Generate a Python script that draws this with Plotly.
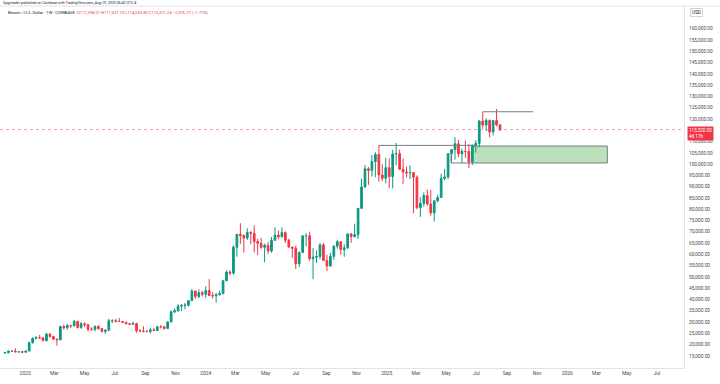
import pandas as pd
import plotly.graph_objects as go

# Weekly BTC/USD candles (values in thousands of USD), first week starting 2022-11-21
week_start = "2022-11-21"
opens_k = [16.28,16.45,17.10,17.10,16.78,16.84,16.62,17.13,20.87,22.71,23.03,22.93,21.80,24.63,23.55,22.43,22.15,27.99,27.46,28.45,
           28.33,30.30,27.59,29.23,28.85,26.78,26.75,28.08,27.10,25.85,26.35,30.55,30.60,30.30,30.25,29.90,29.25,29.05,29.30,26.10,
           26.00,25.85,25.82,26.55,26.25,27.95,27.90,27.15,30.00,34.50,35.00,37.05,37.35,37.45,39.45,43.75,41.35,43.00,42.30,43.95,
           41.75,41.60,42.05,42.60,48.30,52.15,51.75,63.15,68.90,68.40,67.20,69.65,69.35,65.65,64.90,63.10,64.00,61.50,66.25,68.50,
           67.75,69.65,66.20,63.20,62.70,55.85,60.80,68.20,68.25,58.10,58.70,59.00,64.20,57.30,54.80,59.10,63.60,65.60,62.10,62.90,
           69.00,67.90,68.70,80.40,89.90,97.90,97.20,101.10,104.30,95.20,93.70,98.40,94.50,104.50,104.70,97.70,96.50,96.10,96.25,94.20,
           80.70,82.60,86.10,82.30,78.40,83.70,85.20,93.70,94.30,104.60,106.40,109.00,104.60,105.70,105.60,101.00,108.40,109.20,119.10,117.30,
           119.40,114.20,119.30,117.40]
highs_k = [16.75,17.42,17.30,18.39,16.95,16.97,17.20,21.30,23.25,23.80,24.25,23.44,25.25,25.13,23.90,22.60,28.40,28.90,29.20,28.75,
           31.00,30.50,30.00,29.85,29.00,27.65,28.45,28.45,27.40,26.80,31.40,31.25,31.40,31.80,30.45,30.00,29.55,30.20,29.70,26.80,
           28.15,26.40,27.48,27.45,28.05,28.60,28.00,30.35,35.20,35.95,37.95,37.95,38.45,39.75,44.70,43.80,44.40,43.80,45.90,49.00,
           43.20,42.85,43.85,48.55,52.85,52.95,64.00,69.00,73.80,68.90,71.55,70.30,72.80,66.90,67.25,64.75,65.50,67.70,71.95,70.60,
           71.95,70.20,66.95,63.35,63.80,61.30,68.35,69.40,70.05,62.75,61.80,65.00,64.95,59.80,60.65,64.10,66.50,65.70,64.45,69.40,
           69.50,73.60,80.45,93.45,99.60,98.70,104.00,105.25,108.30,99.95,102.75,102.50,106.30,109.35,106.45,102.50,98.80,99.50,96.50,95.00,
           85.30,87.45,88.75,88.50,83.95,86.45,95.75,97.90,104.90,106.60,111.95,110.70,106.80,110.40,108.95,108.50,110.55,119.50,123.20,120.25,
           119.80,119.50,124.45,117.60]
lows_k = [15.98,16.05,16.88,16.53,16.40,16.33,16.55,17.10,20.40,22.35,22.55,21.40,21.35,23.10,21.97,19.57,21.90,26.60,26.50,27.25,
          28.10,27.13,26.95,27.68,25.82,26.10,25.88,26.50,25.35,24.80,26.25,29.55,29.85,30.00,29.55,28.90,28.60,28.70,25.30,25.80,
          25.40,25.40,24.90,26.00,26.00,27.15,26.55,26.90,29.90,33.95,34.55,34.80,35.65,36.85,39.40,40.20,40.55,41.30,40.75,41.50,
          40.35,38.55,41.85,42.25,48.20,50.60,50.90,59.00,64.60,60.75,66.40,64.50,60.80,59.65,62.45,56.55,60.20,60.75,66.10,66.65,
          67.50,65.00,63.10,58.40,53.50,54.30,60.65,63.50,57.10,49.00,56.15,57.85,57.20,52.55,54.60,57.60,62.55,59.85,58.90,62.40,
          65.10,67.45,66.80,80.20,89.40,90.80,94.50,94.20,92.20,92.50,91.50,89.25,89.20,99.50,97.60,91.20,94.10,93.35,78.25,80.00,
          76.60,81.15,81.60,77.15,74.50,83.10,85.15,92.80,93.35,100.80,102.00,103.10,100.40,102.70,98.20,99.60,105.10,107.50,115.70,114.70,
          111.90,112.70,116.80,114.60]
closes_k = [16.45,17.10,17.10,16.78,16.84,16.62,17.13,20.87,22.71,23.03,22.93,21.80,24.63,23.55,22.43,22.15,27.99,27.46,28.45,28.33,
            30.30,27.59,29.23,28.85,26.78,26.75,28.08,27.10,25.85,26.35,30.55,30.60,30.30,30.25,29.90,29.25,29.05,29.30,26.10,26.00,
            25.85,25.82,26.55,26.25,27.95,27.90,27.15,30.00,34.50,35.00,37.05,37.35,37.45,39.45,43.75,41.35,43.00,42.30,43.95,41.75,
            41.60,42.05,42.60,48.30,52.15,51.75,63.15,68.90,68.40,67.20,69.65,69.35,65.65,64.90,63.10,64.00,61.50,66.25,68.50,67.75,
            69.65,66.20,63.20,62.70,55.85,60.80,68.20,68.25,58.10,58.70,59.00,64.20,57.30,54.80,59.10,63.60,65.60,62.10,62.90,69.00,
            67.90,68.70,80.40,89.90,97.90,97.20,101.10,104.30,95.20,93.70,98.40,94.50,104.50,104.70,97.70,96.50,96.10,96.25,94.20,80.70,
            82.60,86.10,82.30,78.40,83.70,85.20,93.70,94.30,104.60,106.40,109.00,104.60,105.70,105.60,101.00,108.40,109.20,119.10,117.30,119.40,
            114.20,119.30,117.40,115.32]

# Axis labels
y_tick_values = list(range(15000, 160001, 5000))
y_tick_labels = [f"{v:,.2f}" for v in y_tick_values]
x_tick_dates = ["2023-01-01","2023-03-01","2023-05-01","2023-07-01","2023-09-01","2023-11-01",
                "2024-01-01","2024-03-01","2024-05-01","2024-07-01","2024-09-01","2024-11-01",
                "2025-01-01","2025-03-01","2025-05-01","2025-07-01","2025-09-01","2025-11-01",
                "2026-01-01","2026-03-01","2026-05-01","2026-07-01"]
x_tick_labels = ["2023","Mar","May","Jul","Sep","Nov","2024","Mar","May","Jul","Sep","Nov",
                 "2025","Mar","May","Jul","Sep","Nov","2026","Mar","May","Jul"]

# Drawings (price levels in USD)
ath_level = 123200
prev_high_level = 108300
zone_top = 108000
zone_bottom = 100500
bracket_top = 104900
last_price = closes_k[-1] * 1000

dates = pd.date_range(week_start, periods=len(closes_k), freq="7D")
UP = "#089981"
DOWN = "#f23645"
GRAY = "#787b86"

fig = go.Figure()
fig.add_trace(go.Candlestick(
    x=dates,
    open=[v * 1000 for v in opens_k],
    high=[v * 1000 for v in highs_k],
    low=[v * 1000 for v in lows_k],
    close=[v * 1000 for v in closes_k],
    increasing=dict(line=dict(color=UP, width=1), fillcolor=UP),
    decreasing=dict(line=dict(color=DOWN, width=1), fillcolor=DOWN),
    whiskerwidth=0,
    hoverinfo="skip",
    showlegend=False,
))

shapes = [
    dict(type="rect", xref="x", yref="y", x0="2025-06-23", x1="2026-03-23",
         y0=zone_bottom, y1=zone_top, fillcolor="rgba(76,175,80,0.38)",
         line=dict(color=GRAY, width=1), layer="below"),
    dict(type="line", xref="x", yref="y", x0="2025-07-14", x1="2025-10-24",
         y0=ath_level, y1=ath_level, line=dict(color=GRAY, width=1)),
    dict(type="line", xref="x", yref="y", x0="2024-12-16", x1="2025-06-30",
         y0=prev_high_level, y1=prev_high_level, line=dict(color=GRAY, width=1)),
    dict(type="line", xref="x", yref="y", x0="2025-05-11", x1="2025-05-11",
         y0=zone_bottom, y1=bracket_top, line=dict(color=GRAY, width=1)),
    dict(type="line", xref="x", yref="y", x0="2025-05-11", x1="2025-06-23",
         y0=zone_bottom, y1=zone_bottom, line=dict(color=GRAY, width=1)),
    dict(type="line", xref="paper", yref="y", x0=0, x1=1, y0=last_price, y1=last_price,
         line=dict(color="rgba(242,54,69,0.45)", width=1, dash="dot"), layer="below"),
    dict(type="line", xref="paper", yref="paper", x0=0, x1=1.053, y0=1, y1=1,
         line=dict(color="#e0e3eb", width=1)),
]

annotations = [
    dict(xref="paper", yref="paper", x=0, y=1.0, xanchor="left", yanchor="bottom",
         xshift=1, yshift=-1,
         text="Spyytrader published on Coinbase with TradingView.com, Aug 19, 2025 06:43 UTC-4",
         showarrow=False, font=dict(size=3.6, color="#131722", family="Roboto")),
    dict(xref="paper", yref="paper", x=0, y=0.981, xanchor="left", yanchor="middle",
         xshift=6,
         text=("Bitcoin / U.S. Dollar · 1W · COINBASE  "
               "<span style='color:#f23645'>O117,398.01 H117,631.29 L114,653.80 C115,321.24 −2,076.77 (−1.77%)</span>"),
         showarrow=False, font=dict(size=4.1, color="#131722", family="Roboto")),
    dict(xref="paper", yref="paper", x=1, y=0.983, xanchor="left", yanchor="middle",
         xshift=6, text="USD", showarrow=False, bordercolor="#d1d4dc", borderwidth=1,
         borderpad=1, font=dict(size=4.6, color="#131722", family="Roboto")),
    dict(xref="paper", yref="y", x=1, y=last_price, xanchor="left", yanchor="top",
         xshift=3, yshift=4, text=f"{last_price:,.2f}<br>4d 17h", showarrow=False, align="left",
         bgcolor=DOWN, borderpad=1, font=dict(size=4.6, color="white", family="Roboto")),
]

fig.update_layout(
    width=720, height=384,
    margin=dict(l=0, r=36, t=6, b=16),
    paper_bgcolor="white", plot_bgcolor="white",
    shapes=shapes, annotations=annotations,
    hovermode=False,
    xaxis=dict(type="date", range=["2022-11-11", "2026-08-25"], rangeslider=dict(visible=False),
               tickvals=x_tick_dates, ticktext=x_tick_labels, showgrid=False, zeroline=False,
               showline=True, linecolor="#e0e3eb", linewidth=1, ticks="",
               tickfont=dict(size=5, color="#4a4a4a", family="Roboto")),
    yaxis=dict(side="right", range=[9620, 170080], tickvals=y_tick_values, ticktext=y_tick_labels,
               showgrid=False, zeroline=False, showline=True, linecolor="#e0e3eb", linewidth=1,
               ticks="", ticklabelstandoff=3,
               tickfont=dict(size=4.8, color="#4a4a4a", family="Roboto")),
)

fig.write_html("out.html", config={"displayModeBar": False},
               post_script="document.body.style.margin='0';document.body.style.overflow='hidden';")
